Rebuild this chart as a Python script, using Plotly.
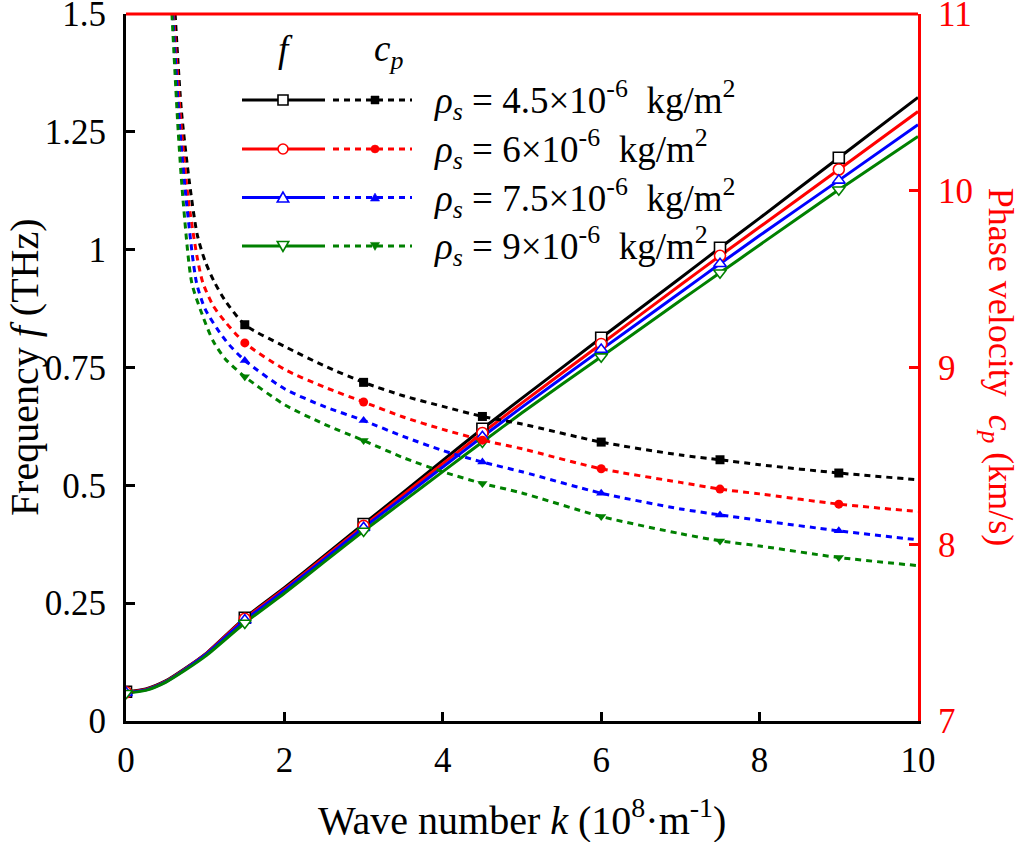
import plotly.graph_objects as go

# ---------------- data ----------------
k_f = [0, 0.25, 0.5, 0.75, 1.0, 1.5, 2, 2.5, 3, 3.5, 4, 4.5, 5, 6, 7, 7.5, 8, 9, 10]
f_45 = [0.062, 0.068, 0.085, 0.112, 0.142, 0.219, 0.283, 0.350, 0.418, 0.485, 0.553, 0.620, 0.685, 0.813, 0.940, 1.004, 1.067, 1.195, 1.323]
f_60 = [0.061, 0.067, 0.084, 0.111, 0.141, 0.217, 0.280, 0.347, 0.414, 0.480, 0.546, 0.611, 0.675, 0.800, 0.925, 0.987, 1.048, 1.170, 1.293]
f_75 = [0.060, 0.066, 0.083, 0.110, 0.140, 0.214, 0.277, 0.343, 0.410, 0.474, 0.539, 0.603, 0.666, 0.788, 0.909, 0.970, 1.030, 1.147, 1.265]
f_90 = [0.059, 0.065, 0.082, 0.108, 0.137, 0.208, 0.271, 0.337, 0.403, 0.466, 0.529, 0.592, 0.654, 0.773, 0.892, 0.951, 1.010, 1.127, 1.240]

k_cp_45 = [0.62, 0.7, 0.8, 0.9, 1.0, 1.12, 1.25, 1.5, 2, 2.5, 3, 3.5, 4, 4.5, 5, 6, 7, 7.5, 8, 9, 10]
cp_45 = [11.0, 10.45, 10.05, 9.75, 9.60, 9.48, 9.38, 9.242, 9.12, 9.01, 8.916, 8.84, 8.78, 8.723, 8.68, 8.578, 8.505, 8.478, 8.45, 8.403, 8.365]
k_cp_60 = [0.6, 0.7, 0.787, 0.9, 0.97, 1.1, 1.25, 1.5, 2, 2.5, 3, 3.5, 4, 4.5, 5, 6, 7, 7.5, 8, 9, 10]
cp_60 = [11.0, 10.35, 9.95, 9.62, 9.48, 9.35, 9.26, 9.139, 8.99, 8.89, 8.805, 8.72, 8.65, 8.589, 8.54, 8.427, 8.35, 8.312, 8.285, 8.227, 8.185]
k_cp_75 = [0.59, 0.68, 0.76, 0.89, 1.0, 1.15, 1.3, 1.5, 2, 2.5, 3, 3.5, 4, 4.5, 5, 6, 7, 7.5, 8, 9, 10]
cp_75 = [11.0, 10.35, 9.95, 9.48, 9.33, 9.22, 9.13, 9.04, 8.88, 8.78, 8.70, 8.61, 8.53, 8.465, 8.41, 8.289, 8.20, 8.166, 8.135, 8.076, 8.025]
k_cp_90 = [0.58, 0.66, 0.72, 0.83, 0.97, 1.1, 1.25, 1.5, 2, 2.5, 3, 3.5, 4, 4.5, 5, 6, 7, 7.5, 8, 9, 10]
cp_90 = [11.0, 10.33, 9.95, 9.48, 9.29, 9.15, 9.05, 8.948, 8.79, 8.68, 8.587, 8.49, 8.41, 8.344, 8.29, 8.157, 8.06, 8.019, 7.99, 7.925, 7.879]

marker_k_f = [0, 1.5, 3, 4.5, 6, 7.5, 9]
marker_k_cp = [1.5, 3, 4.5, 6, 7.5, 9]

rho_labels = ["4.5", "6", "7.5", "9"]
x_ticks = [0, 2, 4, 6, 8, 10]
y_ticks = [0, 0.25, 0.5, 0.75, 1, 1.25, 1.5]
y_ticktext = ["0", "0.25", "0.5", "0.75", "1", "1.25", "1.5"]
y2_ticks = [7, 8, 9, 10, 11]

# ---------------- styles ----------------
FONT = "Liberation Serif"
colors = ["#000000", "#FF0000", "#0000FF", "#008000"]
open_sym = ["square", "circle", "triangle-up", "triangle-down"]
f_series = [f_45, f_60, f_75, f_90]
cp_series = [(k_cp_45, cp_45), (k_cp_60, cp_60), (k_cp_75, cp_75), (k_cp_90, cp_90)]
DASH = "6px,5px"
LW = 3

fig = go.Figure()

# phase velocity (right axis) drawn first
for (kk, cc), col, sym in zip(cp_series, colors, open_sym):
    fig.add_trace(go.Scatter(x=kk, y=cc, yaxis="y2", mode="lines",
                             line=dict(color=col, width=LW, dash=DASH, shape="spline", smoothing=0.7),
                             showlegend=False))
    mx = [k for k in kk if k in marker_k_cp]
    my = [c for k, c in zip(kk, cc) if k in marker_k_cp]
    fig.add_trace(go.Scatter(x=mx, y=my, yaxis="y2", mode="markers",
                             marker=dict(symbol=sym, size=9, color=col, line=dict(width=0)),
                             showlegend=False))

# frequency (left axis)
for ff, col, sym in zip(f_series, colors, open_sym):
    fig.add_trace(go.Scatter(x=k_f, y=ff, mode="lines",
                             line=dict(color=col, width=LW, shape="spline", smoothing=0.6),
                             showlegend=False))
for ff, col, sym in zip(f_series, colors, open_sym):
    mx = [k for k in k_f if k in marker_k_f]
    my = [v for k, v in zip(k_f, ff) if k in marker_k_f]
    fig.add_trace(go.Scatter(x=mx, y=my, mode="markers",
                             marker=dict(symbol=sym, size=11, color="white", line=dict(color=col, width=1.6)),
                             showlegend=False))


# ---------------- custom legend drawn with paper-referenced shapes ----------------
def P(px, py):
    """pixel position inside the 1025x842 page -> paper coordinates of the plot area"""
    return (px - 126) / 792, (721 - py) / 707


def glyph(sym, cx, cy, half, fill, line_col, lw):
    if sym in ("square", "circle"):
        x0, y0 = P(cx - half, cy + half)
        x1, y1 = P(cx + half, cy - half)
        fig.add_shape(type="rect" if sym == "square" else "circle", xref="paper", yref="paper",
                      x0=x0, y0=y0, x1=x1, y1=y1, fillcolor=fill, line=dict(color=line_col, width=lw))
    else:
        s = -1 if sym == "triangle-up" else 1
        pts = [P(cx, cy + s * half * 1.1), P(cx - half * 1.15, cy - s * half * 0.9),
               P(cx + half * 1.15, cy - s * half * 0.9)]
        path = "M {} {} L {} {} L {} {} Z".format(pts[0][0], pts[0][1], pts[1][0], pts[1][1],
                                                  pts[2][0], pts[2][1])
        fig.add_shape(type="path", xref="paper", yref="paper", path=path,
                      fillcolor=fill, line=dict(color=line_col, width=lw))


row_y = [100, 149, 197.5, 246]
for i, (col, sym, lab) in enumerate(zip(colors, open_sym, rho_labels)):
    y = row_y[i]
    xa, ya = P(242, y)
    xb, _ = P(325, y)
    fig.add_shape(type="line", xref="paper", yref="paper", x0=xa, x1=xb, y0=ya, y1=ya,
                  line=dict(color=col, width=LW))
    glyph(sym, 283, y, 5, "white", col, 1.6)
    xc, _ = P(333, y)
    xd, _ = P(412, y)
    fig.add_shape(type="line", xref="paper", yref="paper", x0=xc, x1=xd, y0=ya, y1=ya,
                  line=dict(color=col, width=LW, dash=DASH))
    glyph(sym, 375, y, 4, col, col, 0.5)
    xt, yt = P(432, y)
    fig.add_annotation(x=xt, y=yt, xref="paper", yref="paper", xanchor="left", yanchor="middle",
                       text=f"<i>ρ</i><sub><i>s</i></sub> = {lab}×10<sup>-6</sup>  kg/m<sup>2</sup>",
                       showarrow=False, font=dict(family=FONT, size=37, color="black"))

hx, hy = P(285, 50)
fig.add_annotation(x=hx, y=hy, xref="paper", yref="paper", xanchor="center", yanchor="middle",
                   text="<i>f</i>", showarrow=False, font=dict(family=FONT, size=37, color="black"))
hx, hy = P(388, 52)
fig.add_annotation(x=hx, y=hy, xref="paper", yref="paper", xanchor="center", yanchor="middle",
                   text="<i>c</i><sub><i>p</i></sub>", showarrow=False, font=dict(family=FONT, size=37, color="black"))

# ---------------- axis titles ----------------
fig.add_annotation(x=0.5, y=-0.137, xref="paper", yref="paper", xanchor="center", yanchor="middle",
                   text="Wave number <i>k</i> (10<sup>8</sup>·m<sup>-1</sup>)", showarrow=False,
                   font=dict(family=FONT, size=40, color="black"))
fig.add_annotation(x=-0.128, y=0.5, xref="paper", yref="paper", xanchor="center", yanchor="middle",
                   text="Frequency <i>f</i> (THz)", textangle=-90, showarrow=False,
                   font=dict(family=FONT, size=40, color="black"))
fig.add_annotation(x=1.102, y=0.5, xref="paper", yref="paper", xanchor="center", yanchor="middle",
                   text="Phase velocity  <i>c</i><sub><i>p</i></sub> (km/s)", textangle=90, showarrow=False,
                   font=dict(family=FONT, size=36, color="#FF0000"))

# top border (red)
fig.add_shape(type="line", xref="paper", yref="paper", x0=0, x1=1, y0=1, y1=1,
              line=dict(color="#FF0000", width=3))

axis_common = dict(showgrid=False, zeroline=False, showline=True, linewidth=3, ticks="inside",
                   ticklen=9, tickwidth=2.5, ticklabeloverflow="allow", automargin=False)

fig.update_layout(
    template="none",
    width=1025, height=842,
    margin=dict(l=126, r=107, t=14, b=121),
    paper_bgcolor="white", plot_bgcolor="white",
    font=dict(family=FONT, size=35, color="black"),
    showlegend=False, hovermode=False,
    xaxis=dict(range=[0, 10], tickvals=x_ticks, linecolor="black", tickcolor="black",
               tickfont=dict(family=FONT, size=35, color="black"), ticklabelstandoff=6, **axis_common),
    yaxis=dict(range=[0, 1.5], tickvals=y_ticks, ticktext=y_ticktext, linecolor="black", tickcolor="black",
               tickfont=dict(family=FONT, size=35, color="black"), ticklabelstandoff=10, **axis_common),
    yaxis2=dict(range=[7, 11], tickvals=y2_ticks, overlaying="y", side="right", anchor="x",
                linecolor="#FF0000", tickcolor="#FF0000",
                tickfont=dict(family=FONT, size=35, color="#FF0000"), ticklabelstandoff=10, **axis_common),
)

fig.write_html("out.html")
